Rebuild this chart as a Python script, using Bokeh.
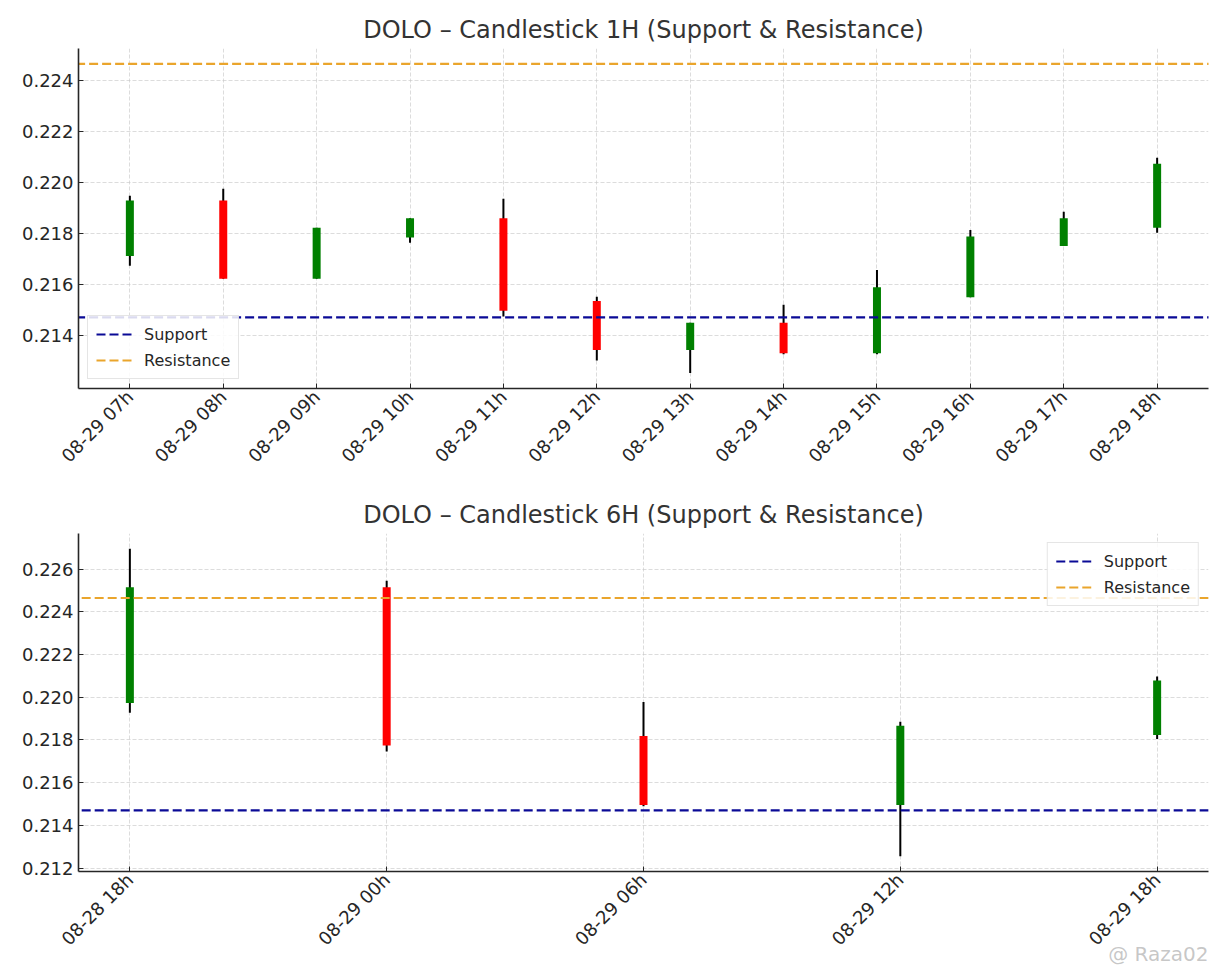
import math
from bokeh.plotting import figure
from bokeh.layouts import column
from bokeh.models import Range1d, FixedTicker, NumeralTickFormatter, Legend, LegendItem, Title
from bokeh.embed import file_html
from bokeh.resources import INLINE

# ---- data ----
h1_labels = ["08-29 07h", "08-29 08h", "08-29 09h", "08-29 10h", "08-29 11h", "08-29 12h",
             "08-29 13h", "08-29 14h", "08-29 15h", "08-29 16h", "08-29 17h", "08-29 18h"]
h1_open = [0.21711, 0.21929, 0.21621, 0.21783, 0.21859, 0.21534, 0.21342, 0.21449, 0.21329, 0.21549, 0.21750, 0.21822]
h1_close = [0.21929, 0.21621, 0.21822, 0.21859, 0.21496, 0.21342, 0.21449, 0.21329, 0.21588, 0.21787, 0.21859, 0.22073]
h1_high = [0.21947, 0.21975, 0.21822, 0.21859, 0.21936, 0.21551, 0.21449, 0.21519, 0.21656, 0.21813, 0.21885, 0.22097]
h1_low = [0.21672, 0.21621, 0.21621, 0.21763, 0.21473, 0.21300, 0.21251, 0.21325, 0.21325, 0.21549, 0.21750, 0.21802]
h1_yticks = [0.214, 0.216, 0.218, 0.220, 0.222, 0.224]

h6_labels = ["08-28 18h", "08-29 00h", "08-29 06h", "08-29 12h", "08-29 18h"]
h6_open = [0.21973, 0.22515, 0.21819, 0.21495, 0.21823]
h6_close = [0.22515, 0.21774, 0.21495, 0.21867, 0.22079]
h6_high = [0.22695, 0.22546, 0.21978, 0.21885, 0.22097]
h6_low = [0.21927, 0.21746, 0.21490, 0.21256, 0.21805]
h6_yticks = [0.212, 0.214, 0.216, 0.218, 0.220, 0.222, 0.224, 0.226]

support = 0.2147
resistance = 0.22465

FONT = "DejaVu Sans"
TXT = "#262626"


def make_chart(title, labels, o, c, hi, lo, yticks, legend_loc, height, border_top, border_bottom):
    n = len(labels)
    xs = list(range(n))
    xpad = 0.05 * (n - 1)
    ymin = min(lo + [support])
    ymax = max(hi + [resistance])
    ypad = 0.05 * (ymax - ymin)
    p = figure(width=1212, height=height, output_backend="svg", toolbar_location=None,
               x_range=Range1d(-xpad, n - 1 + xpad), y_range=Range1d(ymin - ypad, ymax + ypad),
               min_border_left=78, min_border_right=4, min_border_top=border_top,
               min_border_bottom=border_bottom, title=title)
    p.title.align = "center"
    p.title.text_font = FONT
    p.title.text_font_size = "24px"
    p.title.text_font_style = "normal"
    p.title.text_color = "#333333"
    p.outline_line_color = None
    p.background_fill_color = "white"
    p.border_fill_color = "white"

    for g in (p.xgrid, p.ygrid):
        g.grid_line_color = "#c8c8c8"
        g.grid_line_dash = "4 2"
        g.grid_line_width = 0.8
        g.grid_line_alpha = 0.8

    p.xaxis.ticker = FixedTicker(ticks=xs)
    p.xaxis.major_label_overrides = {i: lab for i, lab in enumerate(labels)}
    p.xaxis.major_label_orientation = math.pi / 4
    p.yaxis.ticker = FixedTicker(ticks=yticks)
    p.yaxis.formatter = NumeralTickFormatter(format="0.000")
    for ax in (p.xaxis, p.yaxis):
        ax.axis_line_color = TXT
        ax.axis_line_width = 1.6
        ax.major_tick_in = 5
        ax.major_tick_out = 0
        ax.major_tick_line_color = TXT
        ax.minor_tick_line_color = None
        ax.major_label_text_font = FONT
        ax.major_label_text_font_size = "18px"
        ax.major_label_text_color = TXT

    colors = ["green" if cc >= oo else "red" for oo, cc in zip(o, c)]
    p.segment(x0=xs, y0=lo, x1=xs, y1=hi, line_color="black", line_width=2)
    p.segment(x0=xs, y0=o, x1=xs, y1=c, line_color=colors, line_width=8, line_cap="butt")

    xl = [-xpad - 1, n + xpad]
    r_sup = p.line(x=xl, y=[support, support], line_color="#0a0a96", line_width=2.2, line_dash="9 4")
    r_res = p.line(x=xl, y=[resistance, resistance], line_color="#eaa52c", line_width=2.2, line_dash="9 4")

    legend = Legend(items=[LegendItem(label="Support", renderers=[r_sup]),
                           LegendItem(label="Resistance", renderers=[r_res])],
                    location=legend_loc)
    legend.label_text_font = FONT
    legend.label_text_font_size = "16px"
    legend.label_text_color = TXT
    legend.label_standoff = 12
    legend.glyph_width = 36
    legend.glyph_height = 20
    legend.label_height = 20
    legend.spacing = 6
    legend.padding = 8
    legend.margin = 9
    legend.border_line_color = "#cccccc"
    legend.border_line_width = 1
    legend.background_fill_alpha = 0.85
    p.add_layout(legend)
    return p


p1 = make_chart("DOLO – Candlestick 1H (Support & Resistance)", h1_labels, h1_open, h1_close,
                h1_high, h1_low, h1_yticks, "bottom_left", 493, 48, 105)
p2 = make_chart("DOLO – Candlestick 6H (Support & Resistance)", h6_labels, h6_open, h6_close,
                h6_high, h6_low, h6_yticks, "top_right", 477, 39, 99)

p2.add_layout(Title(text="@ Raza02", align="right", vertical_align="top", text_font=FONT,
                    text_font_size="20px", text_font_style="normal", text_color="#bdbdbd",
                    text_alpha=0.85, standoff=-36), "below")

layout = column(p1, p2, spacing=0)
open("out.html", "w").write(file_html(layout, INLINE))
